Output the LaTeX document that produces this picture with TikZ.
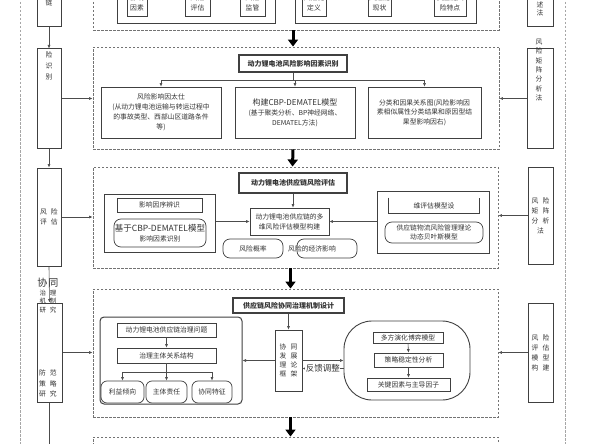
\documentclass[tikz,border=0pt]{standalone}
\usepackage{fontspec}
\setmainfont{Noto Sans CJK SC}
\usetikzlibrary{arrows.meta,positioning}

\tikzset{
  box/.style={draw=black!75, line width=0.7pt, fill=white, inner sep=0pt, align=center, text=black!80, font=\fontsize{6.8}{10}\selectfont},
  titlebox/.style={box, line width=1.3pt, font=\fontsize{7}{8}\selectfont\bfseries},
  sidebox/.style={box, line width=1pt},
  secbox/.style={draw=black!55, line width=0.9pt, dash pattern=on 2.5pt off 1.5pt, inner sep=0pt},
  pill/.style={box, rounded corners=7pt},
  arr/.style={draw=black!70, line width=0.6pt, -{Latex[length=3.5pt,width=3pt]}},
  bigarr/.style={line width=3pt, -{Triangle[length=7pt,width=10pt]}},
  txt/.style={font=\fontsize{6.8}{10}\selectfont, text=black!80, align=center, inner sep=0pt},
}

\begin{document}
\begin{tikzpicture}[x=1pt,y=-1pt]
    \fill[white] (0,0) rectangle (592,444);
    \useasboundingbox (0,0) rectangle (592,444);
    \clip (0,0) rectangle (592,444);

    % outer frame
    \draw[secbox, draw=black!35] (20,-10) -- (20,460);
    \draw[secbox, draw=black!35] (565,-10) -- (565,460);

    % sections
    \node[secbox, minimum width=406pt, minimum height=70pt] (sec0) at (296,-5) {};
    \node[secbox, minimum width=406pt, minimum height=102pt] (sec1) at (296,98) {};
    \node[secbox, minimum width=405pt, minimum height=101pt] (sec2) at (295.5,217.5) {};
    \node[secbox, minimum width=405pt, minimum height=128pt] (sec3) at (295.5,353) {};
    \node[secbox, minimum width=405pt, minimum height=60pt] (sec4) at (295.5,467) {};

    \draw[bigarr] ([xshift=-3pt]sec0.south) -- ([xshift=-3pt]sec1.north);
    \draw[bigarr] ([xshift=-3pt]sec1.south) -- ([xshift=-3pt]sec2.north);
    \draw[bigarr] ([xshift=-5pt]sec2.south) -- ([xshift=-5pt]sec3.north);
    \draw[bigarr] ([xshift=-5pt]sec3.south) -- ([xshift=-5pt]sec4.north);

    % top section
    \node[box, minimum width=158pt, minimum height=53pt] (bg0) at (196,-3.5) {};
    \node[box, minimum width=20pt, minimum height=26pt] (bg0a) at (137,3) {影响\\因素};
    \node[box, minimum width=25pt, minimum height=26pt] (bg0b) at (197.5,3) {风险\\评估};
    \node[box, minimum width=25pt, minimum height=26pt] (bg0c) at (252.5,3) {风险\\监管};
    \node[box, minimum width=181pt, minimum height=53pt] (ch0) at (385.5,-3.5) {};
    \node[box, minimum width=24pt, minimum height=26pt] (ch0a) at (314,3) {风险链\\定义};
    \node[box, minimum width=23pt, minimum height=26pt] (ch0b) at (379.5,3) {风险链\\现状};
    \node[box, minimum width=32pt, minimum height=26pt] (ch0c) at (450,3) {供应链风\\险特点};

    % left column
    \node[sidebox, minimum width=24pt, minimum height=67pt] (lc0) at (49,-6.5) {};
    \node[txt] at (49,3) {链};
    \node[sidebox, minimum width=24pt, minimum height=99pt] (lc1) at (49,98.5) {};
    \node[txt, font=\fontsize{6.8}{11}\selectfont, anchor=north] at (49,52) {险\\识\\别};
    \node[sidebox, minimum width=24pt, minimum height=98pt] (lc2) at (49,217) {风\hspace{4pt}险\\评\hspace{4pt}估};
    \node[sidebox, minimum width=25pt, minimum height=99pt] (lc3) at (49.5,352.5) {};
    \draw[arr] (lc0.south) -- (lc1.north);
    \draw[arr] (lc1.south) -- (lc2.north);
    \draw[arr] (lc2.south) -- (lc3.north);
    \draw[draw=black!70, line width=0.6pt] (lc3.south) -- ++(0,50);
    \node[txt, font=\fontsize{10}{10}\selectfont] at (48,283) {协\hspace{1pt}同};
    \node[txt, font=\fontsize{6.5}{8.5}\selectfont] at (48,301.5) {治\hspace{4pt}理\\机\hspace{4pt}制\\研\hspace{4pt}究};
    \node[txt, font=\fontsize{6.8}{10.5}\selectfont] at (48,383.5) {防\hspace{4pt}范\\策\hspace{4pt}略\\研\hspace{4pt}究};
    \draw[arr] (lc1.east) -- (lc1.east -| sec1.west);
    \draw[arr] (lc2.east) -- (lc2.east -| sec2.west);
    \draw[arr] (lc3.east) -- (lc3.east -| sec3.west);

    % right column
    \node[sidebox, minimum width=26pt, minimum height=67pt] (rc0) at (540,-6.5) {};
    \node[txt, font=\fontsize{6.8}{8}\selectfont] at (540,9) {述\\法};
    \node[sidebox, minimum width=26pt, minimum height=99pt] (rc1) at (540,98.5) {};
    \node[txt, font=\fontsize{6.8}{9.3}\selectfont, anchor=north] at (539,39) {风\\险\\矩\\阵\\分\\析\\法};
    \node[sidebox, minimum width=25pt, minimum height=97pt] (rc2) at (540.5,215.5) {风\hspace{4pt}险\\矩\hspace{4pt}阵\\分\hspace{4pt}析\\法};
    \node[sidebox, minimum width=25pt, minimum height=99pt] (rc3) at (540.5,352.5) {风\hspace{4pt}险\\评\hspace{4pt}估\\模\hspace{4pt}型\\构\hspace{4pt}建};
    \draw[arr] (rc1.west) -- (rc1.west -| sec1.east);
    \draw[arr] (rc2.west) -- (rc2.west -| sec2.east);
    \draw[arr] (rc3.west) -- (rc3.west -| sec3.east);

    % section 1: factor identification
    \node[titlebox, minimum width=108pt, minimum height=17pt] (t1) at (293,63.5) {动力锂电池风险影响因素识别};
    \node[box, minimum width=120pt, minimum height=51pt] (f1a) at (161,112.5) {风险影响因太仕\\(从动力锂电池运输与转运过程中\\的事故类型、西部山区道路条件\\等)};
    \node[box, minimum width=120pt, minimum height=51pt] (f1b) at (295,112.5) {{\fontsize{8}{10}\selectfont 构建CBP-DEMATEL模型}\\(基于聚类分析、BP神经网络、\\DEMATEL方法)};
    \node[box, minimum width=113pt, minimum height=51pt, font=\fontsize{6.8}{9.5}\selectfont] (f1c) at (424.5,112.5) {分类和因果关系图(风险影响因\\素相似属性分类结果和原因型结\\果型影响因右)};
    \draw[draw=black!70, line width=0.6pt] (t1.south) -- ++(0,8) coordinate (b1);
    \draw[draw=black!70, line width=0.6pt] (f1a.north |- b1) -- (f1c.north |- b1);
    \draw[arr] (f1a.north |- b1) -- (f1a.north);
    \draw[arr] (f1b.north |- b1) -- (f1b.north);
    \draw[arr] (f1c.north |- b1) -- (f1c.north);

    % section 2: risk assessment
    \node[titlebox, minimum width=108pt, minimum height=20pt] (t2) at (293,183) {动力锂电池供应链风险评估};
    \node[box, minimum width=79pt, minimum height=27pt] (m2) at (289.5,221.5) {动力锂电池供应链的多\\维风险评估模型构建};
    \node[box, line width=1pt, minimum width=111pt, minimum height=58pt] (l2) at (159.5,223) {};
    \node[box, line width=1pt, minimum width=85pt, minimum height=14pt] (l2a) at (159.5,205) {影响因序辨识};
    \node[pill, minimum width=92pt, minimum height=28pt] (l2b) at (160,233) {{\fontsize{8.5}{9}\selectfont 基于CBP-DEMATEL模型}\\影响因素识别};
    \node[box, minimum width=112pt, minimum height=62pt] (r2) at (433,222) {};
    \node[box, draw=none, minimum width=90pt, minimum height=15pt] (r2a) at (434,205.5) {维评估模型设};
    \draw[draw=black!75, line width=0.7pt] (r2a.north west) |- (r2a.south east) -- (r2a.north east);
    \node[pill, minimum width=98pt, minimum height=21pt, font=\fontsize{6.8}{8.5}\selectfont] (r2b) at (434,232.5) {供应链物流风险管理理论\\动态贝叶斯模型};
    \node[pill, minimum width=60pt, minimum height=19pt] (p2a) at (253,248.5) {风险概率};
    \node[pill, minimum width=60pt, minimum height=19pt] (p2b) at (327,248.5) {};
    \node[txt] at (312,248.5) {风险的经济影响};
    \draw[arr] (t2.south) -- (t2.south |- m2.north);
    \draw[arr] (l2.east |- m2.west) -- (m2.west);
    \draw[arr] (r2.west |- m2.east) -- (m2.east);

    % section 3: governance mechanism
    \node[titlebox, minimum width=111pt, minimum height=15pt] (t3) at (288.5,305.5) {供应链风险协同治理机制设计};
    \node[box, minimum width=27pt, minimum height=61pt, font=\fontsize{6.8}{9}\selectfont] (m3) at (288.5,360.5) {协\hspace{4pt}同\\发\hspace{4pt}展\\理\hspace{4pt}论\\框\hspace{4pt}架};
    \node[box, line width=1pt, rounded corners=4pt, minimum width=142pt, minimum height=87pt] (l3) at (171,360.5) {};
    \node[box, minimum width=99pt, minimum height=14pt] (l3a) at (166.5,330) {动力锂电池供应链治理问题};
    \node[box, minimum width=99pt, minimum height=15pt] (l3b) at (166.5,355.5) {治理主体关系结构};
    \node[box, rounded corners=6pt, minimum width=43pt, minimum height=22pt] (l3c) at (122.5,392) {利益倾向};
    \node[box, rounded corners=6pt, minimum width=41pt, minimum height=22pt] (l3d) at (166.5,392) {主体责任};
    \node[box, rounded corners=6pt, minimum width=40pt, minimum height=22pt] (l3e) at (212,392) {协同特征};
    \draw[arr] (l3a.south) -- (l3b.north);
    \draw[draw=black!70, line width=0.6pt] (l3b.south) -- ++(0,9) coordinate (b3);
    \draw[draw=black!70, line width=0.6pt] (l3c.north |- b3) -- (l3e.north |- b3);
    \draw[arr] (l3c.north |- b3) -- (l3c.north);
    \draw[arr] (l3d.north |- b3) -- (l3d.north);
    \draw[arr] (l3e.north |- b3) -- (l3e.north);
    \node[box, line width=0.9pt, rounded corners=28pt, minimum width=126pt, minimum height=79pt] (r3) at (407,360.5) {};
    \node[box, minimum width=70pt, minimum height=11pt] (r3a) at (408,337.5) {多方演化博弈模型};
    \node[box, minimum width=69pt, minimum height=14pt] (r3b) at (408.5,360) {策略稳定性分析};
    \node[box, minimum width=83pt, minimum height=13pt] (r3c) at (408.5,384.5) {关键因素与主导因子};
    \draw[arr] (r3a.south) -- (r3b.north);
    \draw[arr] (r3b.south) -- (r3c.north);
    \draw[arr] (t3.south) -- (m3.north);
    \draw[arr] (m3.west) -- (m3.west -| l3.east);
    \draw[arr] (m3.east) -- (m3.east -| r3.west);
    \draw[arr] ([yshift=-8pt]r3.west) -- node[fill=white, inner sep=0.5pt, text=black!80, font=\fontsize{8.5}{9}\selectfont]{反馈调整} ([yshift=-8pt]m3.east);
\end{tikzpicture}
\end{document}
